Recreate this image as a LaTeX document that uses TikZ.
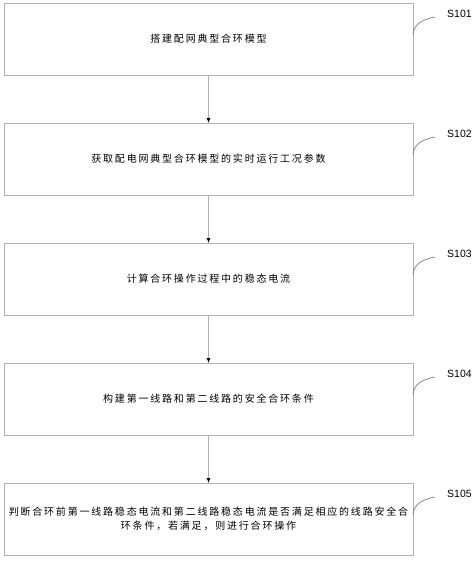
\documentclass[tikz,border=0pt]{standalone}
\usepackage{fontspec}
\setmainfont{Liberation Sans}
\newfontfamily\cjk[LetterSpace=18]{Noto Sans CJK SC}
\usepackage{tikz}
\usetikzlibrary{arrows.meta, positioning}
\usepackage{xcolor}
\definecolor{boxgray}{RGB}{175,175,175}
\definecolor{tipgray}{RGB}{110,110,110}

\tikzset{
  stepbox/.style={draw=boxgray, line width=0.8pt, minimum width=409pt, minimum height=72pt,
    inner sep=0pt, outer sep=0pt, align=center, font=\cjk\fontsize{10pt}{14pt}\selectfont},
  tag/.style={anchor=west, inner sep=0pt, font=\fontsize{10.5pt}{12pt}\selectfont},
  flow/.style={draw=boxgray, line width=0.7pt, -{Latex[black, length=5pt, width=4pt]}},
  hook/.style={draw=tipgray, line width=0.6pt}
}

\begin{document}
\begin{tikzpicture}
  \useasboundingbox (0,0) rectangle (474pt,-561pt);
  \node[stepbox] (b1) at (208.5pt,-39pt) {搭建配网典型合环模型};
  \node[stepbox, below=48pt of b1] (b2) {获取配电网典型合环模型的实时运行工况参数};
  \node[stepbox, below=48pt of b2] (b3) {计算合环操作过程中的稳态电流};
  \node[stepbox, below=48pt of b3] (b4) {构建第一线路和第二线路的安全合环条件};
  \node[stepbox, below=48pt of b4] (b5) {判断合环前第一线路稳态电流和第二线路稳态电流是否满足相应的线路安全合\\环条件，若满足，则进行合环操作};
  % step arrows
  \foreach \a/\b in {b1/b2, b2/b3, b3/b4, b4/b5} {
    \draw[flow] (\a.south) -- (\b.north);
  }
  % step tags
  \foreach \n in {1,...,5} {
    \node[tag] (l\n) at ([xshift=34pt, yshift=-11pt]b\n.north east) {S10\n};
    \draw[hook] ([yshift=4pt]b\n.east) to[out=90, in=190] ([xshift=-12pt, yshift=-3pt]l\n.west);
  }
\end{tikzpicture}
\end{document}
